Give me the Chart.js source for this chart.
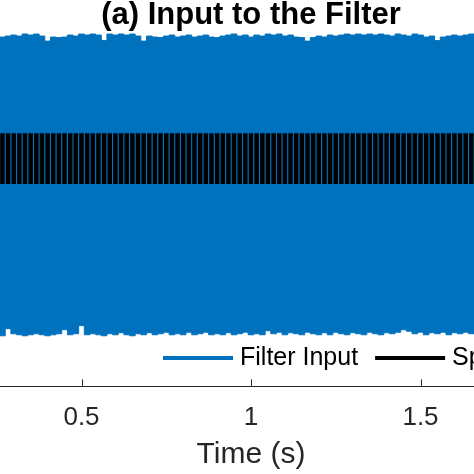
<!DOCTYPE html>
<html>
<head>
<meta charset="utf-8">
<title>(a) Input to the Filter</title>
<script src="https://cdn.jsdelivr.net/npm/chart.js@4.4.1/dist/chart.umd.min.js"></script>
<style>
  html, body { margin: 0; padding: 0; background: #fff; overflow: hidden; }
  /* the axes run 0..2 s, the picture only shows the middle part */
  #wrap { position: absolute; left: -88px; top: 0; width: 678px; height: 474px; }
</style>
</head>
<body>
<div id="wrap"><canvas id="chart"></canvas></div>
<script>
// time of each sample (s), one every 60 Hz period
const sampleTimes = [
  0.25, 0.2667, 0.2833, 0.3, 0.3167, 0.3333, 0.35, 0.3667, 0.3833, 0.4,
  0.4167, 0.4333, 0.45, 0.4667, 0.4833, 0.5, 0.5167, 0.5333, 0.55, 0.5667,
  0.5833, 0.6, 0.6167, 0.6333, 0.65, 0.6667, 0.6833, 0.7, 0.7167, 0.7333,
  0.75, 0.7667, 0.7833, 0.8, 0.8167, 0.8333, 0.85, 0.8667, 0.8833, 0.9,
  0.9167, 0.9333, 0.95, 0.9667, 0.9833, 1, 1.0167, 1.0333, 1.05, 1.0667,
  1.0833, 1.1, 1.1167, 1.1333, 1.15, 1.1667, 1.1833, 1.2, 1.2167, 1.2333,
  1.25, 1.2667, 1.2833, 1.3, 1.3167, 1.3333, 1.35, 1.3667, 1.3833, 1.4,
  1.4167, 1.4333, 1.45, 1.4667, 1.4833, 1.5, 1.5167, 1.5333, 1.55, 1.5667,
  1.5833, 1.6, 1.6167, 1.6333, 1.65, 1.6667
];

// filter input: upper and lower envelope of the signal
const inputUpper = [
  2.90, 2.90, 2.92, 2.94, 2.92, 2.96, 2.94, 2.96, 2.92, 2.82,
  2.90, 2.89, 2.90, 2.94, 2.92, 2.96, 2.94, 2.96, 2.94, 2.83,
  2.96, 2.94, 2.96, 2.94, 2.96, 2.92, 2.82, 2.92, 2.90, 2.89,
  2.92, 2.94, 2.90, 2.92, 2.94, 2.90, 2.92, 2.94, 2.90, 2.89,
  2.92, 2.94, 2.96, 2.92, 2.94, 2.90, 2.94, 2.92, 2.96, 2.94,
  2.96, 2.92, 2.94, 2.90, 2.89, 2.82, 2.89, 2.92, 2.90, 2.94,
  2.92, 2.94, 2.96, 2.94, 2.96, 2.94, 2.96, 2.94, 2.96, 2.94,
  2.92, 2.96, 2.94, 2.92, 2.96, 2.94, 2.90, 2.92, 2.83, 2.90,
  2.92, 2.94, 2.92, 2.94, 2.96, 2.94
];
const inputLower = [
  -2.98, -3.00, -2.86, -2.96, -2.98, -3.00, -2.98, -2.96, -2.98, -3.00,
  -2.98, -2.96, -2.88, -2.98, -2.96, -2.80, -2.98, -2.96, -2.98, -3.00,
  -2.96, -2.98, -2.94, -2.98, -3.00, -2.96, -2.98, -2.94, -2.98, -2.96,
  -2.93, -2.98, -2.96, -2.98, -2.93, -2.98, -2.96, -2.93, -2.98, -2.96,
  -2.98, -2.94, -2.98, -2.96, -2.93, -2.98, -2.96, -2.98, -2.90, -2.96,
  -2.93, -2.98, -2.94, -2.96, -2.98, -2.93, -2.96, -2.98, -2.94, -2.98,
  -2.93, -2.96, -2.98, -2.94, -2.96, -2.98, -2.93, -2.96, -2.98, -2.94,
  -2.96, -2.93, -2.88, -2.91, -2.96, -2.93, -2.98, -2.94, -2.96, -2.93,
  -2.98, -2.94, -2.96, -2.93, -2.96, -2.94
];

// second signal switches between these two levels every period
const pulseLevels = [0, 1];

const seriesLabels = ['Filter Input', 'Spike Train'];
const xTicks = [0, 0.5, 1, 1.5, 2];

const blue = '#0072BD';
const axisColor = '#262626';
const fontFamily = '"Liberation Sans", Arial, Helvetica, sans-serif';

// MATLAB style ticks pointing into the axes
const innerTicks = {
  id: 'innerTicks',
  afterDraw(chart) {
    const sx = chart.scales.x;
    const ctx = chart.ctx;
    ctx.save();
    ctx.strokeStyle = axisColor;
    ctx.lineWidth = 1;
    sx.ticks.forEach(t => {
      const px = Math.round(sx.getPixelForValue(t.value)) + 0.5;
      ctx.beginPath();
      ctx.moveTo(px, sx.top);
      ctx.lineTo(px, sx.top - 7);
      ctx.stroke();
    });
    ctx.restore();
  }
};

// horizontal legend sitting inside the axes, above the time axis
const insideLegend = {
  id: 'insideLegend',
  afterDraw(chart) {
    const ctx = chart.ctx;
    const area = chart.chartArea;
    let x = area.left + 251;
    const y = area.bottom - 28.5;
    ctx.save();
    ctx.font = '25px ' + fontFamily;
    ctx.textBaseline = 'middle';
    ctx.textAlign = 'left';
    chart.data.datasets.forEach(ds => {
      if (!ds.label) return;
      ctx.strokeStyle = ds.borderColor;
      ctx.lineWidth = 4;
      ctx.beginPath();
      ctx.moveTo(x, y);
      ctx.lineTo(x + 70, y);
      ctx.stroke();
      ctx.fillStyle = '#000';
      ctx.fillText(ds.label, x + 77, y + 0.7);
      x += 77 + ctx.measureText(ds.label).width + 17;
    });
    ctx.restore();
  }
};

new Chart(document.getElementById('chart'), {
  type: 'line',
  data: {
    datasets: [
      {
        label: seriesLabels[0],
        data: sampleTimes.map((t, i) => ({ x: t, y: inputUpper[i] })),
        borderColor: blue,
        backgroundColor: blue,
        borderWidth: 1,
        pointRadius: 0,
        stepped: 'middle',
        fill: '+1',
        order: 2
      },
      {
        label: '',
        data: sampleTimes.map((t, i) => ({ x: t, y: inputLower[i] })),
        borderColor: blue,
        backgroundColor: blue,
        borderWidth: 1,
        pointRadius: 0,
        stepped: 'middle',
        fill: false,
        order: 2
      },
      {
        type: 'bar',
        label: seriesLabels[1],
        data: sampleTimes.map(t => ({ x: t, y: pulseLevels })),
        borderColor: '#000',
        backgroundColor: '#000',
        borderWidth: 0,
        barThickness: 4.5,
        inflateAmount: 0,
        order: 0
      }
    ]
  },
  options: {
    responsive: true,
    maintainAspectRatio: false,
    animation: false,
    layout: { padding: 0 },
    plugins: {
      legend: { display: false },
      tooltip: { enabled: false },
      title: {
        display: true,
        text: '(a) Input to the Filter',
        color: '#000',
        font: { family: fontFamily, size: 31, weight: 'bold', lineHeight: 1 },
        padding: { top: 0, bottom: 1 }
      }
    },
    scales: {
      x: {
        type: 'linear',
        min: 0,
        max: 2,
        offset: false,
        afterBuildTicks: s => { s.ticks = xTicks.map(v => ({ value: v })); },
        afterFit: s => {
          s.height = 87.6;
          s.paddingLeft = 0;
          s.paddingRight = 0;
        },
        grid: { display: false, offset: false, drawTicks: false },
        border: { display: true, color: axisColor, width: 1 },
        ticks: {
          color: axisColor,
          padding: 16,
          maxRotation: 0,
          autoSkip: false,
          callback: v => String(v),
          font: { family: fontFamily, size: 26 }
        },
        title: {
          display: true,
          text: 'Time (s)',
          color: axisColor,
          font: { family: fontFamily, size: 30 },
          padding: { top: 0, bottom: 1 }
        }
      },
      y: {
        display: false,
        min: -4,
        max: 3
      }
    }
  },
  plugins: [innerTicks, insideLegend]
});
</script>
</body>
</html>
